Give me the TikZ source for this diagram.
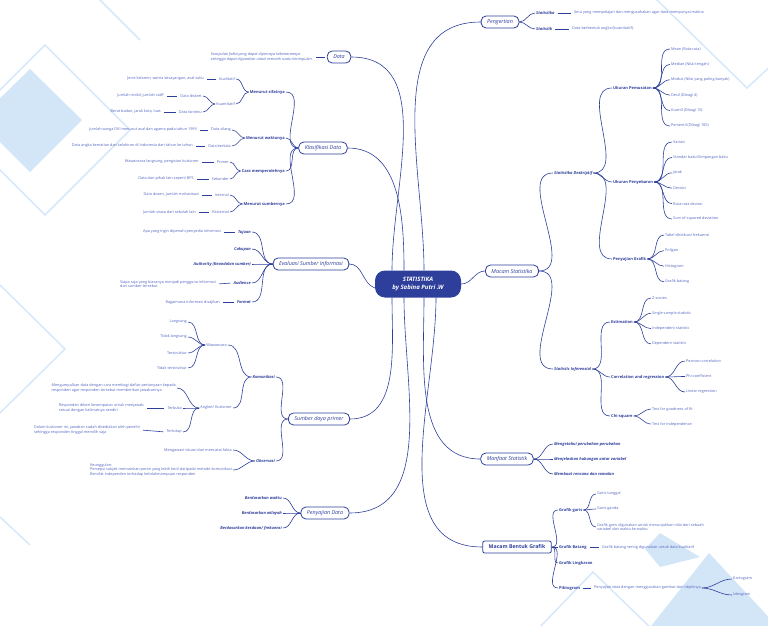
\documentclass[tikz,border=0pt]{standalone}
\usepackage{fontspec}
\setmainfont{Open Sans}
\definecolor{lc}{HTML}{2E3F9B}
\definecolor{lt}{HTML}{5566C0}
\definecolor{bgf}{HTML}{D3E6F8}
\definecolor{bgl}{HTML}{D6E8FA}
\begin{document}
\begin{tikzpicture}[x=1pt,y=-1pt]
\tikzset{
 mb/.style={draw=lc, line width=0.8pt, rounded corners=5pt, fill=white, font=\fontsize{5.4}{6}\selectfont\itshape, text=lc, inner xsep=6pt, inner ysep=2.5pt, minimum height=12pt},
 sb/.style={font=\fontsize{4}{5}\selectfont\bfseries, text=lc, inner sep=1pt},
 si/.style={font=\fontsize{4}{5}\selectfont\bfseries\itshape, text=lc, inner sep=1pt},
 lf/.style={font=\fontsize{3.8}{4.8}\selectfont, text=lt, inner sep=1pt, align=left},
 ed/.style={draw=lc, line width=0.6pt},
 dl/.style={draw=lc, line width=0.6pt, shorten <=2pt, shorten >=2pt},
}
\useasboundingbox (0,0) rectangle (768,626);
\begin{scope}
\clip (0,0) rectangle (768,626);
\fill[bgf] (30,69) -- (82,120) -- (30,172) -- (-22,120) -- cycle;
\draw[bgl, line width=1.5pt] (45,45) -- (130,130) -- (45,215) -- (-40,130) -- cycle;
\draw[bgl, line width=1.5pt] (95,-5) -- (140,40);
\draw[bgl, line width=1.5pt] (0,285) -- (65,349) -- (0,413);
\draw[bgl, line width=1.5pt] (0,517) -- (30,545);
\draw[bgl, line width=1.5pt] (655,-2) -- (747,88) -- (775,62);
\fill[bgf] (709,553) -- (790,640) -- (640,640) -- cycle;
\fill[bgf] (660,533) -- (700,557) -- (660,567) -- (645,549) -- cycle;
\draw[bgl, line width=1.5pt] (535,632) -- (593,572) -- (655,632);
\end{scope}

% centre
\node[fill=lc, rounded corners=10pt, text=white, font=\fontsize{6}{7.5}\selectfont\bfseries\itshape, align=center, minimum width=86pt, minimum height=27pt] (c) at (418,284) {STATISTIKA\\by Sabina Putri .W};

% main branches
\node[mb] (d) at (339,57) {Data};
\node[mb] (kd) at (323,148) {Klasifikasi Data};
\node[mb] (ev) at (311,264) {Evaluasi Sumber Informasi};
\node[mb] (sp) at (319,419) {Sumber daya primer};
\node[mb] (pd) at (325,513) {Penyajian Data};
\node[mb] (pg) at (500,22) {Pengertian};
\node[mb] (ms) at (512,271) {Macam Statistika};
\node[mb] (mf) at (507,459) {Manfaat Statistik};
\node[mb, rounded corners=2pt, font=\fontsize{5.2}{6}\selectfont\bfseries] (mg) at (517,547) {Macam Bentuk Grafik};

\draw[ed] ([xshift=-26pt]c.north) to[out=90,in=0] (d.east);
\draw[ed] ([xshift=-14pt]c.north) to[out=90,in=0] (kd.east);
\draw[ed] ([yshift=-4pt]c.west) to[out=160,in=0] (ev.east);
\draw[ed] ([xshift=-26pt]c.south) to[out=-90,in=0] (sp.east);
\draw[ed] ([xshift=-14pt]c.south) to[out=-90,in=0] (pd.east);
\draw[ed] ([xshift=6pt]c.north) to[out=90,in=180] (pg.west);
\draw[ed] (c.east) to[out=0,in=180] (ms.west);
\draw[ed] ([xshift=6pt]c.south) to[out=-90,in=180] (mf.west);
\draw[ed] ([xshift=18pt]c.south) to[out=-90,in=180] (mg.west);

% Data
\node[lf, anchor=east, font=\fontsize{3.8}{4.8}\selectfont\itshape] (d1) at (314,57) {Kumpulan fakta yang dapat dipercaya kebenarannya\\sehingga dapat digunakan untuk menarik suatu kesimpulan.};
\draw[dl] (d1.east) -- (d.west);

% Klasifikasi
\node[sb, anchor=east] (k1) at (286,92) {Menurut sifatnya};
\node[sb, anchor=east] (k2) at (286,138) {Menurut waktunya};
\node[sb, anchor=east] (k3) at (286,171) {Cara memperolehnya};
\node[sb, anchor=east] (k4) at (286,204) {Menurut sumbernya};
\foreach \n in {k1,k2,k3,k4} \draw[ed] (kd.west) to[out=180,in=0] (\n.east);
\node[lf, anchor=east] (k11) at (236,79) {Kualitatif};
\node[lf, anchor=east] (k12) at (236,104) {Kuantitatif};
\node[lf, anchor=east] (k11d) at (205,79) {Jenis kelamin, warna kesayangan, asal suku};
\node[lf, anchor=east] (k121) at (203,96) {Data diskret};
\node[lf, anchor=east] (k122) at (203,112) {Data kontinu};
\node[lf, anchor=east] (k121d) at (165,96) {Jumlah mobil, jumlah staff};
\node[lf, anchor=east] (k122d) at (162,112) {Berat badan, jarak kota, luas};
\node[lf, anchor=east] (k21) at (232,130) {Data silang};
\node[lf, anchor=east] (k22) at (232,146) {Data berkala};
\node[lf, anchor=east] (k21d) at (198,130) {Jumlah warga DKI menurut asal dan agama pada tahun 1999};
\node[lf, anchor=east] (k22d) at (194,146) {Data angka kematian dan kelahiran di Indonesia dari tahun ke tahun};
\node[lf, anchor=east] (k31) at (230,162) {Primer};
\node[lf, anchor=east] (k32) at (230,179) {Sekunder};
\node[lf, anchor=east] (k31d) at (200,162) {Wawancara langsung, pengisian kuisioner};
\node[lf, anchor=east] (k32d) at (195,179) {Data dari pihak lain seperti BPS};
\node[lf, anchor=east] (k41) at (230,195) {Internal};
\node[lf, anchor=east] (k42) at (230,212) {Eksternal};
\node[lf, anchor=east] (k41d) at (200,195) {Data dosen, jumlah mahasiswa};
\node[lf, anchor=east] (k42d) at (197,212) {Jumlah siswa dari sekolah lain};
\foreach \p/\q in {k1/k11,k1/k12,k12/k121,k12/k122,k2/k21,k2/k22,k3/k31,k3/k32,k4/k41,k4/k42}
  \draw[ed] (\p.west) to[out=180,in=0] (\q.east);
\foreach \p/\q in {k11d/k11,k121d/k121,k122d/k122,k21d/k21,k22d/k22,k31d/k31,k32d/k32,k41d/k41,k42d/k42}
  \draw[dl] (\p.east) -- (\q.west);

% Evaluasi
\node[si, anchor=east] (e1) at (252,232) {Tujuan};
\node[si, anchor=east] (e2) at (252,249) {Cakupan};
\node[si, anchor=east] (e3) at (252,264) {Authority (Keandalan sumber)};
\node[si, anchor=east] (e4) at (252,283) {Audience};
\node[si, anchor=east] (e5) at (252,302) {Format};
\foreach \n in {e1,e2,e3,e4,e5} \draw[ed] (ev.west) to[out=180,in=0] (\n.east);
\node[lf, anchor=east] (e1d) at (222,232) {Apa yang ingin dipenuhi penyedia informasi};
\node[lf, anchor=east] (e4d) at (217,284) {Siapa saja yang biasanya menjadi pengguna informasi\\dari sumber tersebut};
\node[lf, anchor=east] (e5d) at (221,302) {Bagaimana informasi disajikan};
\foreach \p/\q in {e1d/e1,e4d/e4,e5d/e5} \draw[dl] (\p.east) -- (\q.west);

% Sumber daya primer
\node[si, anchor=east] (s1) at (276,377) {Komunikasi};
\node[si, anchor=east] (s2) at (276,461) {Observasi};
\draw[ed] (sp.west) to[out=180,in=0] (s1.east);
\draw[ed] (sp.west) to[out=180,in=0] (s2.east);
\node[lf, anchor=east] (s11) at (228,345) {Wawancara};
\node[lf, anchor=east] (s12) at (233,408) {Angket/ Kuisioner};
\draw[ed] (s1.west) to[out=180,in=0] (s11.east);
\draw[ed] (s1.west) to[out=180,in=0] (s12.east);
\node[lf, anchor=east] (w1) at (188,322) {Langsung};
\node[lf, anchor=east] (w2) at (188,337) {Tidak langsung};
\node[lf, anchor=east] (w3) at (188,353) {Terstruktur};
\node[lf, anchor=east] (w4) at (188,368) {Tidak terstruktur};
\foreach \n in {w1,w2,w3,w4} \draw[ed] (s11.west) to[out=180,in=0] (\n.east);
\node[lf, anchor=east] (s12d) at (177,388) {Mengumpulkan data dengan cara membagi daftar pertanyaan kepada\\responden agar responden tersebut memberikan jawabannya};
\node[lf, anchor=east] (s121) at (183,408) {Terbuka};
\node[lf, anchor=east] (s122) at (183,432) {Tertutup};
\foreach \n in {s12d,s121,s122} \draw[ed] (s12.west) to[out=180,in=0] (\n.east);
\node[lf, anchor=east] (s121d) at (145,408) {Responden diberi kesempatan untuk menjawab\\sesuai dengan kalimatnya sendiri};
\node[lf, anchor=east] (s122d) at (141,430) {Dalam kuisioner ini, jawaban sudah disediakan oleh peneliti\\sehingga responden tinggal memilih saja};
\draw[dl] (s121d.east) -- (s121.west);
\draw[dl] (s122d.east) -- (s122.west);
\node[lf, anchor=east] (s21) at (233,450) {Mengawasi situasi dan mencatat fakta};
\node[lf, anchor=east] (s22) at (233,470) {Keunggulan:\\Persepsi subjek memainkan peran yang lebih kecil daripada metode komunikasi\\Bersifat independen terhadap ketidakmampuan responden};
\draw[ed] (s2.west) to[out=180,in=0] (s21.east);
\draw[ed] (s2.west) to[out=180,in=0] (s22.east);

% Penyajian
\node[si, anchor=east] (p1) at (283,498) {Berdasarkan waktu};
\node[si, anchor=east] (p2) at (283,513) {Berdasarkan wilayah};
\node[si, anchor=east] (p3) at (283,528) {Berdasarkan kesdaan/ frekuensi};
\foreach \n in {p1,p2,p3} \draw[ed] (pd.west) to[out=180,in=0] (\n.east);

% Pengertian
\node[si, anchor=west] (g1) at (535,13) {Statistika};
\node[si, anchor=west] (g2) at (535,29) {Statistik};
\draw[ed] (pg.east) to[out=0,in=180] (g1.west);
\draw[ed] (pg.east) to[out=0,in=180] (g2.west);
\node[lf, anchor=west] (g1d) at (573,13) {Ilmu yang mempelajari dan mengusahakan agar data mempunyai makna};
\node[lf, anchor=west] (g2d) at (571,29) {Data berbentuk angka (kuantitatif).};
\draw[dl] (g1.east) -- (g1d.west);
\draw[dl] (g2.east) -- (g2d.west);

% Macam Statistika
\node[si, anchor=west] (m1) at (553,173) {Statistika Deskriptif};
\node[si, anchor=west] (m2) at (553,369) {Statistic Inferensial};
\draw[ed] (ms.east) to[out=0,in=180] (m1.west);
\draw[ed] (ms.east) to[out=0,in=180] (m2.west);
\node[sb, anchor=west] (m11) at (612,88) {Ukuran Pemusatan};
\node[sb, anchor=west] (m12) at (612,182) {Ukuran Penyebaran};
\node[sb, anchor=west] (m13) at (612,259) {Penyajian Grafik};
\node[sb, anchor=west] (m21) at (610,322) {Estimation};
\node[sb, anchor=west] (m22) at (610,377) {Correlation and regression};
\node[sb, anchor=west] (m23) at (610,416) {Chi-square};
\foreach \n in {m11,m12,m13} \draw[ed] (m1.east) to[out=0,in=180] (\n.west);
\foreach \n in {m21,m22,m23} \draw[ed] (m2.east) to[out=0,in=180] (\n.west);
\foreach \t [count=\i] in {Mean (Rata-rata),Median (Nilai tengah),Modus (Nilai yang paling banyak),Desil (Dibagi 4),Kuartil (Dibagi 10),Persentil (Dibagi 100)} {
  \node[lf, anchor=west] (a\i) at (670,49+15.4*\i-15.4) {\t};
  \draw[ed] (m11.east) to[out=0,in=180] (a\i.west);}
\foreach \t [count=\i] in {Variasi,Standar baku/Simpangan baku,Jarak,Deviasi,Rata-rata deviasi,Sum of squared deviation} {
  \node[lf, anchor=west] (b\i) at (672,142+15.4*\i-15.4) {\t};
  \draw[ed] (m12.east) to[out=0,in=180] (b\i.west);}
\foreach \t [count=\i] in {Tabel distribusi frekuensi,Poligon,Histogram,Grafik batang} {
  \node[lf, anchor=west] (f\i) at (664,235+15.6*\i-15.6) {\t};
  \draw[ed] (m13.east) to[out=0,in=180] (f\i.west);}
\foreach \t [count=\i] in {Z-scores,Single sample statistic,Independent statistic,Dependent statistic} {
  \node[lf, anchor=west] (h\i) at (651,298+15.3*\i-15.3) {\t};
  \draw[ed] (m21.east) to[out=0,in=180] (h\i.west);}
\foreach \t [count=\i] in {Pearson correlation,Phi-coefficient,Linear regression} {
  \node[lf, anchor=west] (r\i) at (685,361+15.5*\i-15.5) {\t};
  \draw[ed] (m22.east) to[out=0,in=180] (r\i.west);}
\foreach \t [count=\i] in {Test for goodness of fit,Test for independence} {
  \node[lf, anchor=west] (q\i) at (651,409+15*\i-15) {\t};
  \draw[ed] (m23.east) to[out=0,in=180] (q\i.west);}

% Manfaat
\foreach \t [count=\i] in {Mengetahui perubahan-perubahan,Menjelaskan hubungan antar variabel,Membuat rencana dan ramalan} {
  \node[si, anchor=west] (u\i) at (553,444+15*\i-15) {\t};
  \draw[ed] (mf.east) to[out=0,in=180] (u\i.west);}

% Macam Bentuk Grafik
\node[sb, anchor=west] (x1) at (558,510) {Grafik garis};
\node[sb, anchor=west] (x2) at (558,547) {Grafik Batang};
\node[sb, anchor=west] (x3) at (558,563) {Grafik Lingkaran};
\node[sb, anchor=west] (x4) at (558,588) {Piktogram};
\foreach \n in {x1,x2,x3,x4} \draw[ed] (mg.east) to[out=0,in=180] (\n.west);
\node[lf, anchor=west] (x11) at (596,494) {Garis tunggal};
\node[lf, anchor=west] (x12) at (596,509) {Garis ganda};
\node[lf, anchor=west] (x13) at (596,527) {Grafik garis digunakan untuk menunjukkan nilai dari sebuah\\variabel dari waktu ke waktu};
\foreach \n in {x11,x12,x13} \draw[ed] (x1.east) to[out=0,in=180] (\n.west);
\node[lf, anchor=west] (x2d) at (601,547) {Grafik batang sering digunakan untuk data kualitatif};
\draw[dl] (x2.east) -- (x2d.west);
\node[lf, anchor=west] (x4d) at (593,588) {Penyajian data dengan menggunakan gambar dari objeknya};
\draw[dl] (x4.east) -- (x4d.west);
\node[lf, anchor=west] (x41) at (732,579) {Kartogram};
\node[lf, anchor=west] (x42) at (732,595) {Ideogram};
\draw[ed] (x4d.east) to[out=0,in=180] (x41.west);
\draw[ed] (x4d.east) to[out=0,in=180] (x42.west);
\end{tikzpicture}
\end{document}
